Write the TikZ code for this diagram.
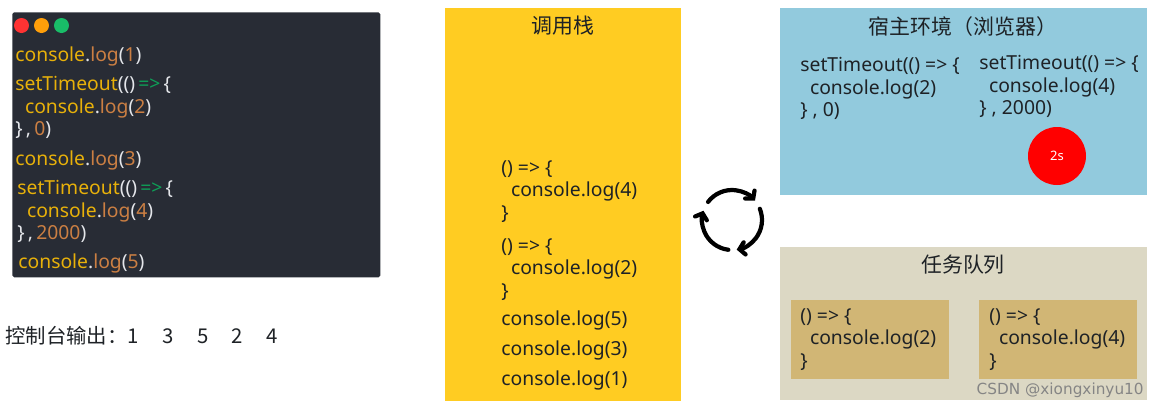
\documentclass[tikz,border=0pt]{standalone}
\usepackage{fontspec}
\setmainfont{Noto Sans}
\newfontfamily\cjk{Noto Sans CJK SC}
\newfontfamily\markfont{DejaVu Sans}
\usetikzlibrary{arrows.meta}
\definecolor{editorbg}{HTML}{282C35}
\definecolor{fnyellow}{HTML}{E8B10A}
\definecolor{numorange}{HTML}{CB7F43}
\definecolor{arrowgreen}{HTML}{0E9F57}
\definecolor{punctwhite}{HTML}{E4E6EA}
\definecolor{stackyellow}{HTML}{FFCC22}
\definecolor{hostblue}{HTML}{92CADD}
\definecolor{queuegrey}{HTML}{DCD8C4}
\definecolor{taskbrown}{HTML}{D1B675}
\definecolor{inktext}{HTML}{1E2226}
\definecolor{dotred}{HTML}{FF3333}
\definecolor{dotorange}{HTML}{FF9F0A}
\definecolor{dotgreen}{HTML}{19BD68}
\newcommand{\fn}[1]{\textcolor{fnyellow}{#1}}
\newcommand{\num}[1]{\textcolor{numorange}{#1}}
\newcommand{\logcall}[1]{\fn{console}.\textcolor{numorange}{log}(\num{#1})}
\newcommand{\timeoutopen}{\fn{setTimeout}(()\,\textcolor{arrowgreen}{=>}\,\{}
\begin{document}
\begin{tikzpicture}[x=0.02cm,y=-0.02cm]
    \tikzstyle{panel} = [rectangle, anchor=north west, inner sep=0pt]
    \tikzstyle{code} = [anchor=north west, inner sep=0pt, align=left, font=\fontsize{11}{12.9}\selectfont]
    \tikzstyle{editorcode} = [code, text=punctwhite]
    \tikzstyle{inkcode} = [code, text=inktext]
    \tikzstyle{title} = [inner sep=0pt, text=inktext, font=\cjk\fontsize{11.9}{14}\selectfont]
    \tikzstyle{dot} = [circle, inner sep=0pt, minimum size=0.3cm]
    \tikzstyle{cycle} = [line width=2.4pt, line cap=round, -{Straight Barb[length=3pt,width=7pt,line cap=round]}]

    \useasboundingbox (0,0) rectangle (1160,410);

    % Editor
    \node [panel, fill=editorbg, rounded corners=1pt, minimum width=7.36cm, minimum height=5.3cm] (editor) at (12,12) {};
    \node [dot, fill=dotred] (redlight) at (21.5,25.5) {};
    \node [dot, fill=dotorange] (orangelight) at (41.5,25.5) {};
    \node [dot, fill=dotgreen] (greenlight) at (61.5,25.5) {};
    \node [editorcode] (logone) at (15,46) {\logcall{1}};
    \node [editorcode] (timeoutzero) at (15,76) {\timeoutopen\\\hspace*{0.5em}\logcall{2}\\\}\,,\,\num{0})};
    \node [editorcode] (logthree) at (15,150) {\logcall{3}};
    \node [editorcode] (timeouttwo) at (17,180) {\timeoutopen\\\hspace*{0.5em}\logcall{4}\\\}\,,\,\num{2000})};
    \node [editorcode] (logfive) at (18,253) {\logcall{5}};

    % Console output
    \node [anchor=west, inner sep=0pt, text=inktext, font=\cjk\fontsize{11.6}{14}\selectfont] (output) at (5,336) {控制台输出：1\hspace{1.15em}3\hspace{1.15em}5\hspace{1.15em}2\hspace{1.15em}4};

    % Call stack
    \node [panel, fill=stackyellow, minimum width=4.72cm, minimum height=7.86cm] (stack) at (445,8) {};
    \node [title] (stacktitle) at (563,26) {调用栈};
    \node [inkcode] (frametwo) at (501,160) {() => \{\\\hspace*{0.5em}console.log(4)\\\}};
    \node [inkcode] (frameone) at (501,238) {() => \{\\\hspace*{0.5em}console.log(2)\\\}};
    \node [inkcode] (framefive) at (501,310) {console.log(5)};
    \node [inkcode] (framethree) at (501,340) {console.log(3)};
    \node [inkcode] (framelast) at (501,370) {console.log(1)};

    % Event loop
    \coordinate (loop) at (732,220);
    \draw [cycle] (loop) ++(217:30) arc[start angle=217, end angle=320, radius=30];
    \draw [cycle] (loop) ++(338:30) arc[start angle=338, end angle=441, radius=30];
    \draw [cycle] (loop) ++(97:30) arc[start angle=97, end angle=198, radius=30];

    % Host environment
    \node [panel, fill=hostblue, minimum width=7.34cm, minimum height=3.74cm] (host) at (780,8) {};
    \node [title] (hosttitle) at (963,27) {宿主环境（浏览器）};
    \node [inkcode] (hostzero) at (800,57) {setTimeout(() => \{\\\hspace*{0.5em}console.log(2)\\\} , 0)};
    \node [inkcode] (hosttwo) at (979,55) {setTimeout(() => \{\\\hspace*{0.5em}console.log(4)\\\} , 2000)};
    \node [circle, fill=red, text=white, inner sep=0pt, minimum size=1.16cm, font=\fontsize{7.4}{9}\selectfont] (timer) at (1057,156) {2s};

    % Task queue
    \node [panel, fill=queuegrey, minimum width=7.34cm, minimum height=3.06cm] (queue) at (780,247) {};
    \node [title] (queuetitle) at (963,265) {任务队列};
    \node [panel, fill=taskbrown, minimum width=3.16cm, minimum height=1.58cm] (tasktwo) at (791,300) {};
    \node [panel, fill=taskbrown, minimum width=3.16cm, minimum height=1.58cm] (taskfour) at (979,300) {};
    \node [inkcode] (tasktwotext) at (800,308) {() => \{\\\hspace*{0.5em}console.log(2)\\\}};
    \node [inkcode] (taskfourtext) at (989,308) {() => \{\\\hspace*{0.5em}console.log(4)\\\}};
    \node [anchor=east, inner sep=0pt, text=black!48, font=\markfont\fontsize{8.7}{11}\selectfont] (mark) at (1144,390) {CSDN @xiongxinyu10};

\end{tikzpicture}
\end{document}
